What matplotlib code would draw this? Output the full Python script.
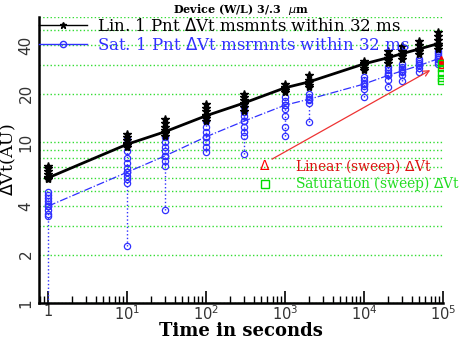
import matplotlib
matplotlib.use('Agg')
import matplotlib.pyplot as plt
import numpy as np
from matplotlib.lines import Line2D
from matplotlib.ticker import FixedLocator, LogLocator, NullFormatter, FixedFormatter

# stress times (s)
times = [1, 10, 30, 100, 300, 1000, 2000, 1e4, 2e4, 3e4, 5e4, 86400]

# mean curves
lin_mean = [6.0, 9.7, 11.6, 14.6, 17.5, 21.8, 23.7, 30.7, 33.5, 35.5, 38.0, 41.0]
sat_mean = [4.0, 6.5, 8.2, 10.8, 13.5, 17.0, 18.5, 23.0, 26.0, 27.7, 30.0, 33.0]

# individual 1-point measurements at each time
lin_runs = [
    [5.9, 6.1, 6.3, 6.6, 6.9, 7.1],
    [9.3, 9.6, 9.9, 10.3, 10.8, 11.2],
    [10.9, 11.4, 11.9, 12.5, 13.2, 13.9],
    [13.5, 14.2, 14.8, 15.6, 16.4, 17.3],
    [15.6, 16.5, 17.3, 18.2, 19.1, 20.0],
    [20.5, 21.0, 21.6, 22.2, 23.0],
    [22.0, 22.8, 23.6, 24.5, 26.0],
    [28.0, 29.0, 30.0, 31.0, 32.0],
    [31.0, 32.5, 33.5, 35.0, 37.0],
    [33.0, 34.5, 35.5, 37.0, 39.5],
    [35.5, 37.0, 38.0, 40.0, 42.5],
    [38.0, 39.5, 41.0, 43.0, 45.5, 48.5],
]
sat_runs = [
    [0.5, 3.5, 3.6, 3.8, 4.0, 4.1, 4.3, 4.5, 4.7, 4.9],
    [2.25, 5.6, 5.9, 6.2, 6.5, 6.9, 7.4, 8.0, 8.8, 9.6, 10.4],
    [3.78, 7.1, 7.6, 8.2, 8.8, 9.4, 10.0, 10.7],
    [8.7, 9.3, 10.0, 10.8, 11.6, 12.5, 13.5],
    [8.4, 10.9, 11.5, 12.5, 13.5, 14.5, 15.5, 16.5],
    [11.0, 12.5, 14.5, 16.0, 17.0, 18.0, 19.0],
    [13.3, 17.5, 18.3, 19.2, 20.0],
    [19.1, 21.5, 22.5, 23.5, 24.5, 25.5],
    [22.0, 24.5, 26.0, 27.0, 28.0, 29.5],
    [24.0, 26.0, 27.5, 28.5, 29.5, 30.7],
    [27.5, 29.0, 30.0, 31.0, 32.0, 33.0],
    [30.7, 31.5, 33.0, 34.0, 35.0, 36.0, 37.0],
]

# sweep measurements at the end of stress
sweep_lin_t = 95000
sweep_lin = [30.0, 31.0, 32.0, 33.0]
sweep_sat_t = 93000
sweep_sat = [24.0, 25.0, 27.0, 29.0, 31.0]

BLUE = '#3030ff'

fig = plt.figure(figsize=(4.74, 3.56), dpi=100)
ax = fig.add_axes([0.0823, 0.1489, 0.8523, 0.8031])

for t, vals in zip(times, sat_runs):
    ax.plot([t] * len(vals), vals, color=BLUE, linestyle=':', linewidth=1,
            marker='o', markersize=4.5, markerfacecolor='none', markeredgewidth=0.9)
for t, vals in zip(times, lin_runs):
    ax.plot([t] * len(vals), vals, color='black', linestyle='-', linewidth=1,
            marker='*', markersize=6)

ax.plot(times, lin_mean, color='black', linewidth=2, marker='*', markersize=6)
ax.plot(times, sat_mean, color=BLUE, linestyle='-.', linewidth=0.9, marker='o',
        markersize=4.5, markerfacecolor='none')

ax.plot([sweep_lin_t] * len(sweep_lin), sweep_lin, color='red', linestyle='none',
        marker='^', markersize=4, markerfacecolor='none')
ax.plot([sweep_sat_t] * len(sweep_sat), sweep_sat, color='#00dd00', linestyle='none',
        marker='s', markersize=4, markerfacecolor='none')

ax.set_xscale('log')
ax.set_yscale('log')
ax.set_xlim(0.77, 1e5)
ax.set_ylim(1, 60)

# y: labels only at a few values, green dotted grid at every minor decade step
ax.yaxis.set_major_locator(FixedLocator([1, 2, 4, 10, 20, 40]))
ax.yaxis.set_major_formatter(FixedFormatter(['1', '2', '4', '10', '20', '40']))
ax.yaxis.set_minor_locator(LogLocator(base=10, subs=np.arange(1, 10)))
ax.yaxis.set_minor_formatter(NullFormatter())
ax.grid(True, which='both', axis='y', color='#33dd33', linestyle=':', linewidth=1)
ax.grid(False, axis='x')
for lab in ax.get_yticklabels():
    lab.set_rotation(90)
    lab.set_va('center')

ax.xaxis.set_minor_locator(LogLocator(base=10, subs=np.arange(2, 10), numticks=10))
ax.xaxis.set_minor_formatter(NullFormatter())
ax.set_xticks([1, 10, 100, 1000, 1e4, 1e5])
ax.set_xticklabels(['1', '$\\mathregular{10^1}$', '$\\mathregular{10^2}$', '$\\mathregular{10^3}$',
                    '$\\mathregular{10^4}$', '$\\mathregular{10^5}$'])

ax.tick_params(axis='x', which='major', direction='in', length=9, width=1.2, labelsize=10.5,
               labelcolor='#333333', pad=1)
ax.tick_params(axis='x', which='minor', direction='in', length=5, width=1)
ax.tick_params(axis='y', which='both', direction='in', length=0, labelsize=11,
               labelcolor='#333333', pad=4)

for side in ['top', 'right']:
    ax.spines[side].set_visible(False)
ax.spines['left'].set_linewidth(1.8)
ax.spines['bottom'].set_linewidth(1.8)

ax.set_xlabel('Time in seconds', family='DejaVu Serif', fontweight='bold', fontsize=13, labelpad=-1)
ax.set_ylabel('$\\Delta$Vt(AU)', family='DejaVu Serif', fontsize=12.5, labelpad=0)
ax.set_title('Device (W/L) 3/.3  $\\mu$m', family='DejaVu Serif', fontweight='bold',
             fontsize=8, pad=3)

handles = [
    Line2D([], [], color='black', linewidth=1, marker='*', markersize=5),
    Line2D([], [], color=BLUE, linewidth=1, marker='o', markersize=4.5, markerfacecolor='none'),
]
labels = ['Lin. 1 Pnt $\\Delta$Vt msmnts within 32 ms',
          'Sat. 1 Pnt $\\Delta$Vt msrmnts within 32 ms']
leg = ax.legend(handles, labels, loc='upper left', frameon=False, borderaxespad=0, borderpad=0,
                bbox_to_anchor=(0, 0.998), handlelength=2.9, handletextpad=0.6, labelspacing=0.12,
                prop={'family': 'DejaVu Serif', 'size': 12})
for txt, c in zip(leg.get_texts(), ['black', BLUE]):
    txt.set_color(c)

# hand-made key for the sweep data
ax.text(560, 7.1, '$\\Delta$', color='red', fontsize=10, family='DejaVu Serif',
        ha='center', va='center')
ax.text(1340, 7.1, 'Linear (sweep) $\\Delta$Vt', color='#dd1111', fontsize=10,
        family='DejaVu Serif', va='center')
ax.plot([560], [5.5], marker='s', color='#00dd00', markerfacecolor='none', markersize=6,
        linestyle='none', clip_on=False)
ax.text(1340, 5.5, 'Saturation (sweep) $\\Delta$Vt', color='#22dd22', fontsize=10,
        family='DejaVu Serif', va='center', clip_on=False)
ax.annotate('', xy=(74000, 28.6), xytext=(640, 7.7),
            arrowprops=dict(arrowstyle='->', color='#ee3333', linewidth=0.9))

fig.savefig('out.png', dpi=100)
